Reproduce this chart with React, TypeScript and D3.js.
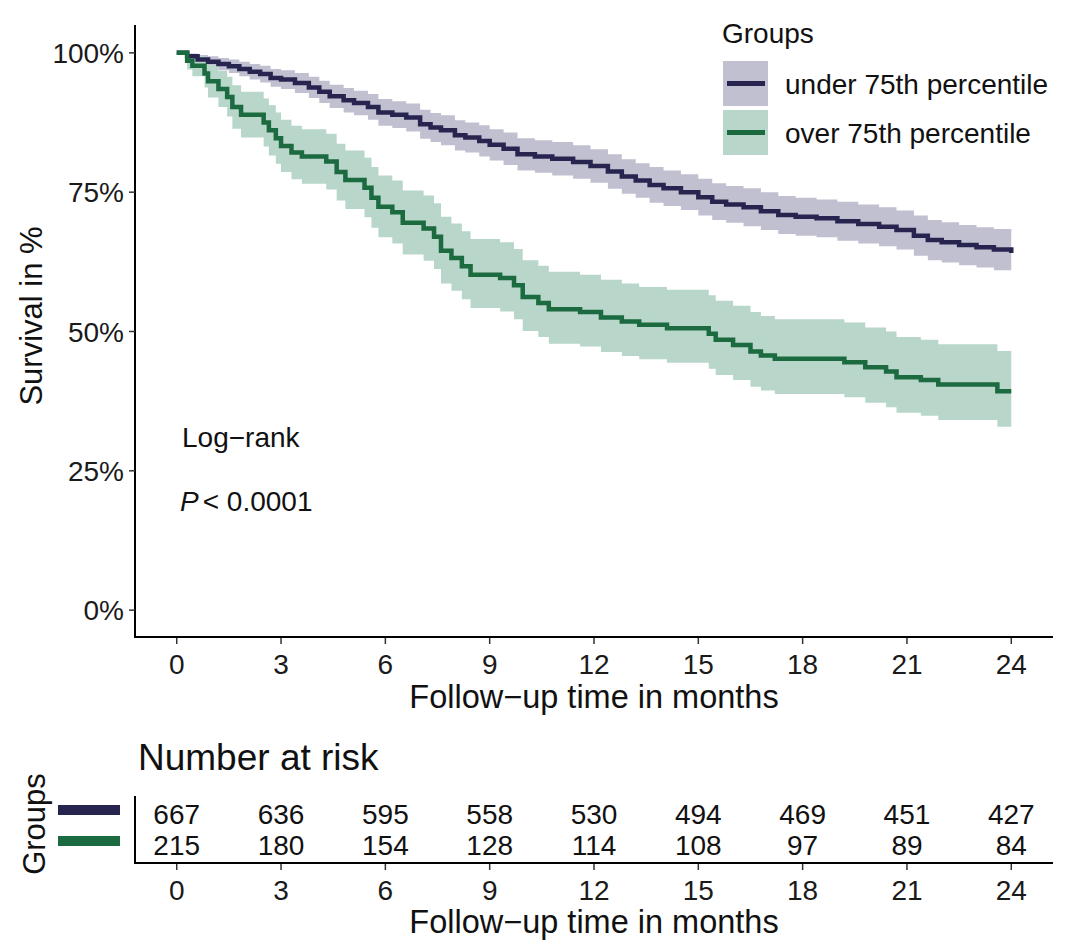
import React from 'react';
import * as d3 from 'd3';

// groups and colours
const groups = ['under 75th percentile', 'over 75th percentile'];
const lineColors = ['#27244f', '#1b6a40'];
const bandColors = ['#c1c0d0', '#b8d6c9'];

// Kaplan-Meier steps (months, survival fraction, CI bounds)
const underTime = [0, 0.3, 0.6, 0.9, 1.2, 1.5, 1.8, 2.1, 2.4, 2.7, 3.0, 3.4, 3.8, 4.1, 4.4, 4.8, 5.1, 5.5, 5.8, 6.2, 6.6, 7.0, 7.3, 7.6, 8.0, 8.3, 8.7, 9.0, 9.4, 9.8, 10.3, 10.8, 11.4, 11.9, 12.4, 12.8, 13.2, 13.6, 14.0, 14.5, 15.0, 15.4, 15.8, 16.3, 16.8, 17.3, 17.8, 18.4, 19.0, 19.6, 20.2, 20.7, 21.2, 21.6, 22.0, 22.5, 23.0, 23.5, 24.0];
const underSurv = [1.0, 0.994, 0.988, 0.984, 0.98, 0.976, 0.971, 0.966, 0.962, 0.955, 0.952, 0.946, 0.938, 0.93, 0.922, 0.915, 0.91, 0.903, 0.893, 0.889, 0.884, 0.872, 0.866, 0.861, 0.852, 0.848, 0.842, 0.835, 0.828, 0.818, 0.814, 0.81, 0.804, 0.797, 0.787, 0.778, 0.771, 0.763, 0.757, 0.75, 0.741, 0.733, 0.728, 0.723, 0.716, 0.709, 0.706, 0.703, 0.698, 0.693, 0.688, 0.682, 0.672, 0.664, 0.66, 0.655, 0.651, 0.647, 0.641];
const underUpper = [1.0, 0.999, 0.996, 0.994, 0.991, 0.988, 0.984, 0.98, 0.977, 0.971, 0.969, 0.964, 0.957, 0.95, 0.943, 0.937, 0.932, 0.926, 0.917, 0.913, 0.909, 0.898, 0.892, 0.888, 0.879, 0.875, 0.87, 0.863, 0.857, 0.847, 0.843, 0.84, 0.834, 0.827, 0.818, 0.809, 0.802, 0.795, 0.789, 0.782, 0.774, 0.766, 0.761, 0.757, 0.75, 0.743, 0.74, 0.737, 0.733, 0.728, 0.723, 0.717, 0.708, 0.7, 0.696, 0.691, 0.687, 0.684, 0.678];
const underLower = [1.0, 0.988, 0.98, 0.974, 0.969, 0.964, 0.958, 0.952, 0.947, 0.939, 0.935, 0.928, 0.919, 0.91, 0.901, 0.893, 0.888, 0.88, 0.869, 0.865, 0.859, 0.846, 0.84, 0.834, 0.825, 0.821, 0.814, 0.807, 0.799, 0.789, 0.785, 0.78, 0.774, 0.767, 0.756, 0.747, 0.74, 0.731, 0.725, 0.718, 0.708, 0.7, 0.695, 0.689, 0.682, 0.675, 0.672, 0.669, 0.663, 0.658, 0.653, 0.647, 0.636, 0.628, 0.624, 0.619, 0.615, 0.61, 0.604];

const overTime = [0, 0.3, 0.45, 0.8, 0.9, 1.2, 1.45, 1.6, 1.85, 2.5, 2.65, 2.85, 3.0, 3.3, 3.6, 4.3, 4.6, 4.85, 5.4, 5.6, 5.8, 6.2, 6.5, 7.1, 7.4, 7.6, 7.9, 8.2, 8.45, 9.3, 9.7, 9.95, 10.4, 10.7, 11.6, 12.2, 12.8, 13.3, 14.1, 15.3, 15.5, 16.0, 16.5, 16.8, 17.2, 19.2, 19.8, 20.4, 20.7, 21.4, 21.9, 23.6, 24.0];
const overSurv = [1.0, 0.986, 0.977, 0.963, 0.949, 0.935, 0.921, 0.903, 0.889, 0.875, 0.861, 0.847, 0.833, 0.821, 0.814, 0.805, 0.786, 0.772, 0.758, 0.74, 0.724, 0.714, 0.695, 0.685, 0.67, 0.645, 0.632, 0.617, 0.602, 0.596, 0.583, 0.562, 0.551, 0.54, 0.535, 0.525, 0.518, 0.512, 0.506, 0.496, 0.485, 0.476, 0.464, 0.457, 0.451, 0.445, 0.436, 0.428, 0.418, 0.413, 0.405, 0.393, 0.393];
const overUpper = [1.0, 0.998, 0.995, 0.988, 0.978, 0.968, 0.957, 0.942, 0.93, 0.918, 0.906, 0.893, 0.88, 0.869, 0.863, 0.855, 0.837, 0.825, 0.812, 0.795, 0.78, 0.771, 0.753, 0.744, 0.73, 0.706, 0.694, 0.68, 0.666, 0.66, 0.648, 0.628, 0.618, 0.607, 0.602, 0.593, 0.586, 0.58, 0.575, 0.565, 0.555, 0.546, 0.535, 0.528, 0.522, 0.516, 0.507, 0.5, 0.49, 0.485, 0.477, 0.465, 0.465];
const overLower = [1.0, 0.97, 0.958, 0.938, 0.92, 0.903, 0.886, 0.864, 0.848, 0.832, 0.816, 0.801, 0.786, 0.773, 0.765, 0.755, 0.735, 0.72, 0.705, 0.686, 0.669, 0.658, 0.638, 0.627, 0.612, 0.586, 0.573, 0.558, 0.542, 0.536, 0.522, 0.501, 0.49, 0.478, 0.473, 0.463, 0.456, 0.45, 0.444, 0.433, 0.422, 0.413, 0.401, 0.394, 0.388, 0.382, 0.372, 0.364, 0.354, 0.349, 0.341, 0.329, 0.329];

// axes and risk table
const xTicks = [0, 3, 6, 9, 12, 15, 18, 21, 24];
const yTicks = [0, 0.25, 0.5, 0.75, 1];
const atRiskUnder = [667, 636, 595, 558, 530, 494, 469, 451, 427];
const atRiskOver = [215, 180, 154, 128, 114, 108, 97, 89, 84];

const FONT = '"Liberation Sans", Arial, Helvetica, sans-serif';

export default function App() {
    const W = 1071;
    const H = 950;

    const x = d3.scaleLinear().domain([-1.2, 25.2]).range([135, 1053]);
    const y = d3.scaleLinear().domain([-0.05, 1.05]).range([638, 25]);

    const curves = [
        { t: underTime, s: underSurv, lo: underLower, hi: underUpper },
        { t: overTime, s: overSurv, lo: overLower, hi: overUpper }
    ];

    const line = d3.line().curve(d3.curveStepAfter)
        .x((d) => x(d[0]))
        .y((d) => y(d[1]));

    const band = d3.area().curve(d3.curveStepAfter)
        .x((d) => x(d[0]))
        .y0((d) => y(d[1]))
        .y1((d) => y(d[2]));

    // risk table rows
    const riskRows = [atRiskUnder, atRiskOver];
    const riskY = [814, 845];
    const riskAxisY = 864;

    const axisBottom = 638;

    return (
        <svg width={W} height={H} style={{ position: 'absolute', left: 0, top: 0, background: '#fff' }}
            fontFamily={FONT}>
            <rect width={W} height={H} fill="#fff" />

            {/* confidence bands */}
            {curves.map((c, i) => (
                <path key={'b' + i}
                    d={band(c.t.map((t, k) => [t, c.lo[k], c.hi[k]]))}
                    fill={bandColors[i]} stroke="none" />
            ))}

            {/* survival curves */}
            {curves.map((c, i) => (
                <path key={'l' + i}
                    d={line(c.t.map((t, k) => [t, c.s[k]]))}
                    fill="none" stroke={lineColors[i]} strokeWidth={4.5}
                    strokeLinejoin="miter" strokeLinecap="butt" />
            ))}

            {/* axes */}
            <line x1={135} x2={135} y1={25} y2={axisBottom} stroke="#000" strokeWidth={2} />
            <line x1={135} x2={1053} y1={axisBottom - 1} y2={axisBottom - 1} stroke="#000" strokeWidth={2} />
            {yTicks.map((v) => (
                <g key={'yt' + v}>
                    <line x1={129} x2={135} y1={y(v)} y2={y(v)} stroke="#333" strokeWidth={1.5} />
                    <text x={124} y={y(v)} dy="0.36em" textAnchor="end" fontSize={28} fill="#1a1a1a">
                        {d3.format('.0%')(v)}
                    </text>
                </g>
            ))}
            {xTicks.map((v) => (
                <g key={'xt' + v}>
                    <line x1={x(v)} x2={x(v)} y1={axisBottom} y2={axisBottom + 6} stroke="#333" strokeWidth={1.5} />
                    <text x={x(v)} y={664} dy="0.36em" textAnchor="middle" fontSize={28} fill="#1a1a1a">{v}</text>
                </g>
            ))}
            <text x={594} y={696} dy="0.36em" textAnchor="middle" fontSize={32.5} fill="#111">
                Follow−up time in months
            </text>
            <text transform="translate(31, 316) rotate(-90)" dy="0.36em" textAnchor="middle" fontSize={31} fill="#111">
                Survival in %
            </text>

            {/* annotation */}
            <text x={182} y={437} dy="0.36em" fontSize={28} fill="#111">Log−rank</text>
            <text x={180} y={501} dy="0.36em" fontSize={28} fill="#111">
                <tspan fontStyle="italic">P</tspan>
                <tspan dx={4}>{'< 0.0001'}</tspan>
            </text>

            {/* legend */}
            <text x={722} y={33} dy="0.36em" fontSize={28} fill="#111">Groups</text>
            {groups.map((g, i) => {
                const top = 61 + i * 49;
                return (
                    <g key={'lg' + i}>
                        <rect x={723} y={top} width={45} height={45} fill={bandColors[i]} />
                        <line x1={727} x2={765} y1={top + 22.5} y2={top + 22.5}
                            stroke={lineColors[i]} strokeWidth={5} />
                        <text x={785} y={top + 23} dy="0.36em" fontSize={28} fill="#111">{g}</text>
                    </g>
                );
            })}

            {/* number at risk table */}
            <text x={138} y={757} dy="0.36em" fontSize={37} fill="#111">Number at risk</text>
            <text transform="translate(34, 824) rotate(-90)" dy="0.36em" textAnchor="middle" fontSize={31} fill="#111">
                Groups
            </text>
            {lineColors.map((c, i) => (
                <line key={'rk' + i} x1={58} x2={120} y1={riskY[i] - 4} y2={riskY[i] - 4}
                    stroke={c} strokeWidth={10} />
            ))}
            <line x1={135} x2={135} y1={796} y2={riskAxisY} stroke="#000" strokeWidth={2} />
            <line x1={135} x2={1053} y1={riskAxisY - 1} y2={riskAxisY - 1} stroke="#000" strokeWidth={2} />
            {riskRows.map((row, i) => row.map((n, k) => (
                <text key={'r' + i + '-' + k} x={x(xTicks[k])} y={riskY[i]} dy="0.36em"
                    textAnchor="middle" fontSize={28} fill="#111">{n}</text>
            )))}
            {xTicks.map((v) => (
                <g key={'rxt' + v}>
                    <line x1={x(v)} x2={x(v)} y1={riskAxisY} y2={riskAxisY + 6} stroke="#333" strokeWidth={1.5} />
                    <text x={x(v)} y={890} dy="0.36em" textAnchor="middle" fontSize={28} fill="#1a1a1a">{v}</text>
                </g>
            ))}
            <text x={594} y={921} dy="0.36em" textAnchor="middle" fontSize={32.5} fill="#111">
                Follow−up time in months
            </text>
        </svg>
    );
}
